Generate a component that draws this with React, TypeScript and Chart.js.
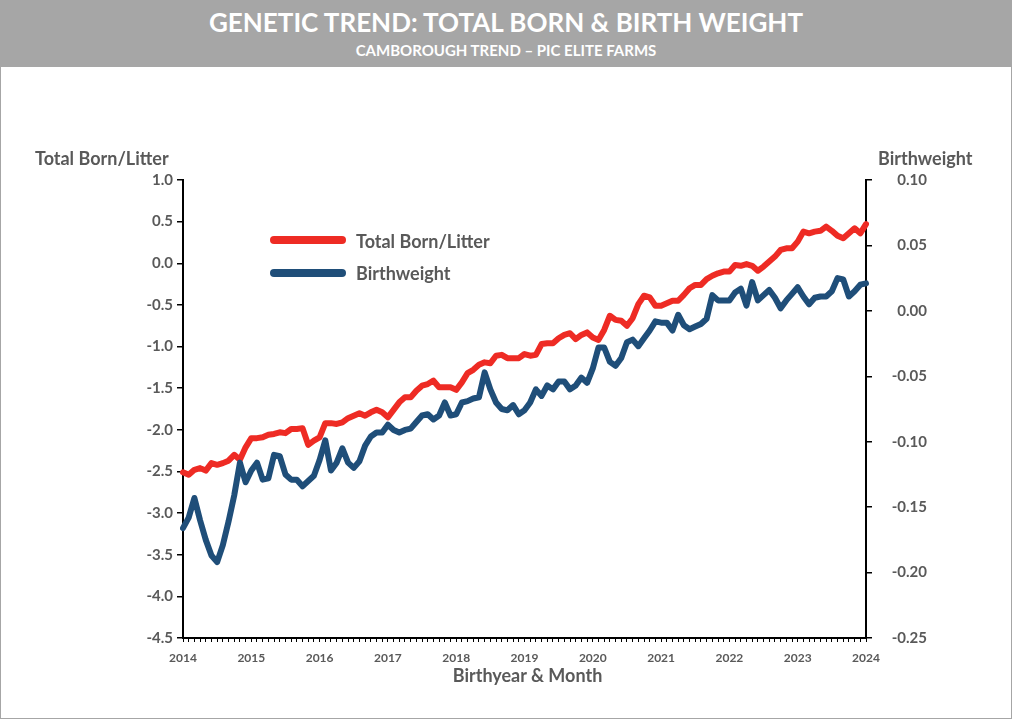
import React, { useEffect, useRef } from 'react';
import { Chart, registerables } from 'chart.js';

Chart.register(...registerables);

// Monthly genetic trend, Jan 2014 .. Jan 2024
const totalBorn: number[] = [
  -2.51, -2.54, -2.48, -2.46, -2.49, -2.40, -2.42, -2.40, -2.37, -2.30, -2.36, -2.21,
  -2.10, -2.10, -2.09, -2.06, -2.05, -2.03, -2.04, -1.99, -1.99, -1.98, -2.18, -2.13,
  -2.09, -1.92, -1.92, -1.93, -1.91, -1.86, -1.83, -1.80, -1.83, -1.79, -1.76, -1.79,
  -1.85, -1.76, -1.67, -1.61, -1.61, -1.53, -1.47, -1.45, -1.41, -1.49, -1.49, -1.49,
  -1.52, -1.43, -1.32, -1.28, -1.22, -1.19, -1.20, -1.11, -1.10, -1.14, -1.14, -1.14,
  -1.09, -1.11, -1.10, -0.97, -0.96, -0.96, -0.90, -0.86, -0.84, -0.91, -0.86, -0.83,
  -0.89, -0.92, -0.80, -0.63, -0.68, -0.69, -0.75, -0.66, -0.49, -0.39, -0.41, -0.51,
  -0.51, -0.48, -0.45, -0.45, -0.38, -0.30, -0.26, -0.26, -0.19, -0.15, -0.12, -0.10,
  -0.10, -0.02, -0.03, -0.01, -0.03, -0.09, -0.04, 0.02, 0.08, 0.16, 0.18, 0.18,
  0.26, 0.38, 0.36, 0.38, 0.39, 0.44, 0.39, 0.33, 0.30, 0.36, 0.42, 0.36,
  0.47,
];

const birthweight: number[] = [
  -0.166, -0.158, -0.143, -0.160, -0.175, -0.187, -0.192, -0.179, -0.161, -0.141, -0.116, -0.131,
  -0.122, -0.116, -0.129, -0.128, -0.110, -0.111, -0.125, -0.129, -0.129, -0.134, -0.130, -0.126,
  -0.114, -0.099, -0.122, -0.116, -0.105, -0.116, -0.120, -0.115, -0.103, -0.096, -0.093, -0.093,
  -0.087, -0.091, -0.093, -0.091, -0.090, -0.085, -0.080, -0.079, -0.083, -0.080, -0.070, -0.080,
  -0.079, -0.070, -0.069, -0.067, -0.066, -0.047, -0.060, -0.070, -0.075, -0.076, -0.072, -0.079,
  -0.076, -0.070, -0.060, -0.065, -0.057, -0.060, -0.054, -0.054, -0.060, -0.057, -0.051, -0.055,
  -0.044, -0.028, -0.028, -0.039, -0.042, -0.036, -0.024, -0.022, -0.027, -0.021, -0.015, -0.008,
  -0.009, -0.009, -0.015, -0.003, -0.011, -0.014, -0.012, -0.010, -0.006, 0.012, 0.008, 0.008,
  0.008, 0.014, 0.017, 0.004, 0.022, 0.008, 0.012, 0.016, 0.010, 0.002, 0.008, 0.013,
  0.018, 0.011, 0.005, 0.010, 0.011, 0.011, 0.015, 0.025, 0.024, 0.011, 0.015, 0.020,
  0.021,
];

const yearLabels: string[] = ['2014', '2015', '2016', '2017', '2018', '2019', '2020', '2021', '2022', '2023', '2024'];

const monthLabels: string[] = [];
for (let i = 0; i < totalBorn.length; i++) {
  const y = parseInt(yearLabels[0], 10) + Math.floor(i / 12);
  monthLabels.push(`${y}-${String((i % 12) + 1).padStart(2, '0')}`);
}

const RED = '#ee2b24';
const BLUE = '#1f4e79';
const GRAY = '#595959';
const FONT = 'Lato, "Open Sans", sans-serif';

const fmt = (v: any, d: number) => {
  const n = Number(v);
  return (Math.abs(n) < 1e-9 ? 0 : n).toFixed(d);
};

export default function App() {
  const ref = useRef<HTMLCanvasElement>(null);

  useEffect(() => {
    const canvas = ref.current;
    if (!canvas) return;
    const chart = new Chart(canvas, {
      type: 'line',
      data: {
        labels: monthLabels,
        datasets: [
          {
            label: 'Birthweight',
            data: birthweight,
            yAxisID: 'y1',
            borderColor: BLUE,
            backgroundColor: BLUE,
            borderWidth: 6,
            pointRadius: 0,
            tension: 0,
            borderJoinStyle: 'round',
            borderCapStyle: 'round',
          },
          {
            label: 'Total Born/Litter',
            data: totalBorn,
            yAxisID: 'y',
            borderColor: RED,
            backgroundColor: RED,
            borderWidth: 6,
            pointRadius: 0,
            tension: 0,
            borderJoinStyle: 'round',
            borderCapStyle: 'round',
          },
        ],
      },
      options: {
        responsive: false,
        animation: false,
        devicePixelRatio: 1,
        layout: { padding: { top: 112, bottom: 42, left: 0, right: 85 } },
        plugins: { legend: { display: false }, tooltip: { enabled: false }, title: { display: false } },
        scales: {
          x: {
            type: 'category',
            offset: false,
            grid: { drawOnChartArea: false, drawTicks: true, tickLength: 4, color: '#000', lineWidth: 1 },
            border: { display: true, color: '#000', width: 2 },
            ticks: {
              autoSkip: false,
              maxRotation: 0,
              minRotation: 0,
              padding: 9,
              color: GRAY,
              font: { family: FONT, size: 12, weight: 'bold' },
              callback: (_v: any, idx: number) => (idx % 12 === 0 ? yearLabels[idx / 12] : ''),
            },
            afterFit: (s: any) => { s.height = 40; },
          },
          y: {
            position: 'left',
            min: -4.5,
            max: 1.0,
            grid: { drawOnChartArea: false, drawTicks: true, tickLength: 6, color: '#000', lineWidth: 1.5 },
            border: { display: true, color: '#000', width: 2 },
            ticks: {
              stepSize: 0.5,
              padding: 4,
              color: GRAY,
              font: { family: FONT, size: 15, weight: 'bold' },
              callback: (v: any) => fmt(v, 1),
            },
            afterFit: (s: any) => { s.width = 183; },
          },
          y1: {
            position: 'right',
            min: -0.25,
            max: 0.1,
            grid: { drawOnChartArea: false, drawTicks: true, tickLength: 6, color: '#000', lineWidth: 1.5 },
            border: { display: true, color: '#000', width: 2 },
            ticks: {
              stepSize: 0.05,
              padding: 6,
              crossAlign: 'far',
              color: GRAY,
              font: { family: FONT, size: 15, weight: 'bold' },
              callback: (v: any) => fmt(v, 2),
            },
            afterFit: (s: any) => { s.width = 61; },
          },
        },
      },
    } as any);
    return () => chart.destroy();
  }, []);

  const legendLine = (color: string): React.CSSProperties => ({
    position: 'absolute', left: 270, width: 76, height: 8, borderRadius: 4, background: color,
  });

  return (
    <div style={{ position: 'absolute', left: 0, top: 0, width: 1012, height: 720, background: '#fff', fontFamily: FONT, overflow: 'hidden' }}>
      <div style={{ position: 'absolute', left: 0, top: 0, width: 1012, height: 67, background: '#a6a6a6' }}>
        <div style={{ position: 'absolute', left: 0, right: 0, top: 6, textAlign: 'center', color: '#fff', fontSize: 26, fontWeight: 'bold', lineHeight: '32px' }}>
          GENETIC TREND: TOTAL BORN &amp; BIRTH WEIGHT
        </div>
        <div style={{ position: 'absolute', left: 0, right: 0, top: 41, textAlign: 'center', color: '#fff', fontSize: 15, fontWeight: 'bold', lineHeight: '18px' }}>
          CAMBOROUGH TREND – PIC ELITE FARMS
        </div>
      </div>
      <div style={{ position: 'absolute', left: 0, top: 67, width: 1010, height: 651, border: '1px solid #a6a6a6', borderTop: 'none' }} />
      <canvas ref={ref} width={1012} height={652} style={{ position: 'absolute', left: 0, top: 68, width: 1012, height: 652 }} />
      <div style={{ position: 'absolute', left: 35, top: 147, color: GRAY, fontSize: 18, fontWeight: 'bold', lineHeight: '22px' }}>Total Born/Litter</div>
      <div style={{ position: 'absolute', left: 878, top: 147, color: GRAY, fontSize: 18, fontWeight: 'bold', lineHeight: '22px' }}>Birthweight</div>
      <div style={{ position: 'absolute', left: 0, width: 1055, top: 664, textAlign: 'center', color: GRAY, fontSize: 18, fontWeight: 'bold', lineHeight: '22px' }}>Birthyear &amp; Month</div>
      <div style={{ ...legendLine(RED), top: 236 }} />
      <div style={{ position: 'absolute', left: 356, top: 230, color: GRAY, fontSize: 18, fontWeight: 'bold', lineHeight: '22px' }}>Total Born/Litter</div>
      <div style={{ ...legendLine(BLUE), top: 269 }} />
      <div style={{ position: 'absolute', left: 356, top: 262, color: GRAY, fontSize: 18, fontWeight: 'bold', lineHeight: '22px' }}>Birthweight</div>
    </div>
  );
}
